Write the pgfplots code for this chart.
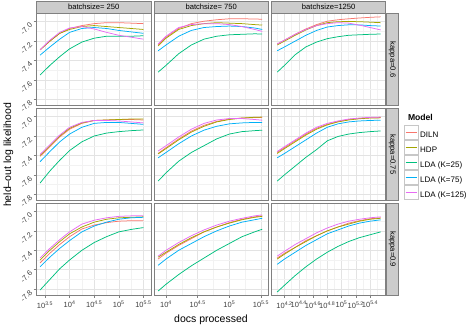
\documentclass[border=0pt]{standalone}
\usepackage{fontspec}
\setmainfont{Liberation Sans}
\usepackage{pgfplots}
\usepackage{pgfplotstable}
\pgfplotsset{compat=1.18}

\definecolor{cDILN}{HTML}{F8766D}
\definecolor{cHDP}{HTML}{A3A500}
\definecolor{cKa}{HTML}{00BF7D}
\definecolor{cKb}{HTML}{00B0F6}
\definecolor{cKc}{HTML}{E76BF3}

% columns: x = log10(docs processed), d = DILN, h = HDP, a = LDA(K=25), b = LDA(K=75), c = LDA(K=125)
\pgfplotstableread{
x d h a b c
3.4 -7.29 -7.29 -7.55 -7.345 -7.29
3.6 -7.20 -7.20 -7.45 -7.26 -7.19
3.8 -7.12 -7.12 -7.36 -7.18 -7.11
4.0 -7.07 -7.08 -7.28 -7.11 -7.065
4.25 -7.04 -7.05 -7.21 -7.07 -7.05
4.5 -7.02 -7.04 -7.17 -7.06 -7.075
4.75 -7.01 -7.05 -7.15 -7.07 -7.11
5.0 -7.01 -7.06 -7.15 -7.09 -7.14
5.25 -7.015 -7.07 -7.15 -7.105 -7.16
5.5 -7.02 -7.08 -7.145 -7.12 -7.18
}\tAA
\pgfplotstableread{
x d h a b c
3.875 -7.24 -7.25 -7.52 -7.30 -7.23
4.0 -7.16 -7.17 -7.45 -7.24 -7.15
4.2 -7.07 -7.08 -7.33 -7.15 -7.06
4.4 -7.02 -7.04 -7.24 -7.09 -7.03
4.6 -6.995 -7.02 -7.18 -7.06 -7.02
4.8 -6.98 -7.01 -7.15 -7.05 -7.02
5.0 -6.97 -7.015 -7.135 -7.045 -7.03
5.2 -6.97 -7.02 -7.13 -7.05 -7.05
5.4 -6.972 -7.03 -7.125 -7.065 -7.08
5.52 -6.975 -7.035 -7.127 -7.08 -7.10
}\tAB
\pgfplotstableread{
x d h a b c
4.097 -7.23 -7.24 -7.52 -7.30 -7.23
4.2 -7.19 -7.20 -7.45 -7.26 -7.19
4.35 -7.13 -7.14 -7.34 -7.20 -7.13
4.5 -7.075 -7.085 -7.26 -7.14 -7.08
4.65 -7.03 -7.04 -7.21 -7.09 -7.04
4.8 -6.995 -7.01 -7.175 -7.055 -7.02
4.95 -6.98 -7.00 -7.155 -7.04 -7.01
5.1 -6.97 -6.998 -7.14 -7.032 -7.015
5.25 -6.962 -7.00 -7.135 -7.033 -7.035
5.4 -6.955 -7.005 -7.13 -7.04 -7.06
5.55 -6.95 -7.01 -7.127 -7.045 -7.085
}\tAC
\pgfplotstableread{
x d h a b c
3.4 -7.41 -7.40 -7.685 -7.465 -7.39
3.6 -7.31 -7.30 -7.56 -7.36 -7.29
3.8 -7.21 -7.20 -7.45 -7.26 -7.19
4.0 -7.13 -7.12 -7.35 -7.18 -7.11
4.25 -7.07 -7.065 -7.26 -7.11 -7.06
4.5 -7.04 -7.04 -7.20 -7.07 -7.04
4.75 -7.035 -7.035 -7.17 -7.06 -7.04
5.0 -7.03 -7.03 -7.155 -7.06 -7.045
5.25 -7.03 -7.025 -7.145 -7.07 -7.055
5.5 -7.035 -7.025 -7.138 -7.08 -7.065
}\tBA
\pgfplotstableread{
x d h a b c
3.875 -7.38 -7.385 -7.665 -7.425 -7.355
4.0 -7.32 -7.33 -7.58 -7.37 -7.30
4.2 -7.23 -7.24 -7.46 -7.28 -7.21
4.4 -7.15 -7.16 -7.37 -7.20 -7.13
4.6 -7.09 -7.10 -7.30 -7.14 -7.07
4.8 -7.05 -7.055 -7.23 -7.10 -7.035
5.0 -7.025 -7.03 -7.18 -7.075 -7.02
5.2 -7.015 -7.015 -7.155 -7.065 -7.02
5.4 -7.01 -7.007 -7.145 -7.06 -7.03
5.52 -7.01 -7.005 -7.14 -7.06 -7.037
}\tBB
\pgfplotstableread{
x d h a b c
4.097 -7.37 -7.38 -7.665 -7.425 -7.36
4.2 -7.32 -7.33 -7.60 -7.38 -7.31
4.35 -7.25 -7.26 -7.51 -7.31 -7.24
4.5 -7.18 -7.19 -7.42 -7.24 -7.17
4.65 -7.12 -7.13 -7.34 -7.17 -7.11
4.8 -7.08 -7.085 -7.25 -7.11 -7.07
4.95 -7.05 -7.055 -7.205 -7.075 -7.045
5.1 -7.03 -7.035 -7.18 -7.055 -7.025
5.25 -7.02 -7.022 -7.165 -7.045 -7.015
5.4 -7.012 -7.015 -7.155 -7.04 -7.008
5.55 -7.01 -7.013 -7.148 -7.037 -7.005
}\tBC
\pgfplotstableread{
x d h a b c
3.4 -7.53 -7.50 -7.81 -7.57 -7.48
3.6 -7.43 -7.40 -7.70 -7.47 -7.38
3.8 -7.34 -7.31 -7.59 -7.38 -7.29
4.0 -7.26 -7.23 -7.50 -7.30 -7.21
4.25 -7.18 -7.16 -7.40 -7.21 -7.13
4.5 -7.14 -7.11 -7.32 -7.15 -7.09
4.75 -7.115 -7.08 -7.26 -7.11 -7.065
5.0 -7.10 -7.065 -7.21 -7.08 -7.05
5.25 -7.095 -7.06 -7.185 -7.065 -7.045
5.5 -7.095 -7.055 -7.166 -7.06 -7.045
}\tCA
\pgfplotstableread{
x d h a b c
3.875 -7.49 -7.47 -7.82 -7.555 -7.46
4.0 -7.43 -7.42 -7.75 -7.49 -7.40
4.2 -7.35 -7.34 -7.65 -7.40 -7.32
4.4 -7.28 -7.27 -7.56 -7.33 -7.25
4.6 -7.21 -7.21 -7.48 -7.26 -7.19
4.8 -7.16 -7.16 -7.40 -7.20 -7.14
5.0 -7.115 -7.12 -7.33 -7.15 -7.10
5.2 -7.08 -7.085 -7.26 -7.11 -7.07
5.4 -7.055 -7.06 -7.21 -7.085 -7.045
5.52 -7.045 -7.05 -7.183 -7.07 -7.035
}\tCB
\pgfplotstableread{
x d h a b c
4.097 -7.48 -7.49 -7.83 -7.545 -7.46
4.2 -7.43 -7.44 -7.76 -7.49 -7.41
4.35 -7.37 -7.37 -7.66 -7.42 -7.34
4.5 -7.30 -7.31 -7.57 -7.35 -7.28
4.65 -7.25 -7.25 -7.49 -7.29 -7.22
4.8 -7.20 -7.20 -7.42 -7.23 -7.17
4.95 -7.16 -7.16 -7.36 -7.19 -7.13
5.1 -7.12 -7.13 -7.31 -7.15 -7.10
5.25 -7.095 -7.10 -7.27 -7.12 -7.08
5.4 -7.075 -7.08 -7.24 -7.10 -7.065
5.55 -7.065 -7.07 -7.21 -7.086 -7.055
}\tCC

\pgfplotsset{
  panel/.style={
    scale only axis, height=92pt,
    ymin=-7.864, ymax=-6.9155,
    ytick={-7.8,-7.6,-7.4,-7.2,-7.0},
    minor ytick={-7.7,-7.5,-7.3,-7.1},
    grid=both,
    major grid style={draw=black!11, line width=0.45pt},
    minor grid style={draw=black!5, line width=0.35pt},
    axis line style={draw=black!50, line width=0.55pt},
    tick align=outside, tick pos=left,
    major tick length=2.5pt, minor tick length=0pt,
    tick style={draw=black!50, line width=0.5pt},
    ticklabel style={font=\fontsize{7.5}{9}\selectfont, text=black!75},
    /pgf/number format/assume math mode=true,
    yticklabel style={rotate=45, anchor=east, /pgf/number format/.cd, fixed, fixed zerofill, precision=1},
    xticklabel={10\textsuperscript{\pgfmathprintnumber[fixed,precision=1]{\tick}}},
    anchor=north west,
  },
  col1/.style={width=115.5pt, xmin=3.317, xmax=5.665, xtick={3.5,4,4.5,5,5.5}, minor xtick={3.75,4.25,4.75,5.25}},
  col2/.style={width=114.5pt, xmin=3.810, xmax=5.619, xtick={4,4.5,5,5.5}, minor xtick={4.25,4.75,5.25}},
  col3/.style={width=114pt, xmin=4.020, xmax=5.620, xtick={4.2,4.4,4.6,4.8,5.0,5.2,5.4}, minor xtick={4.1,4.3,4.5,4.7,4.9,5.1,5.3,5.5}},
  inner x/.style={xmajorticks=false, xminorticks=false, xticklabel={}},
  inner y/.style={ymajorticks=false, yminorticks=false, yticklabel={}},
  lD/.style={color=cDILN, line width=0.75pt},
  lH/.style={color=cHDP, line width=0.75pt},
  lA/.style={color=cKa, line width=0.75pt},
  lB/.style={color=cKb, line width=0.75pt},
  lC/.style={color=cKc, line width=0.75pt},
}
\newcommand{\fiveplots}[1]{%
  \addplot[lD] table[x=x,y=d]{#1};
  \addplot[lH] table[x=x,y=h]{#1};
  \addplot[lA] table[x=x,y=a]{#1};
  \addplot[lB] table[x=x,y=b]{#1};
  \addplot[lC] table[x=x,y=c]{#1};
}
\tikzset{strip/.style={draw=black!50, fill=black!20, line width=0.55pt}}

\begin{document}
\begin{tikzpicture}
\useasboundingbox (0,0) rectangle (474pt,326pt);
% row 1
\begin{axis}[panel, col1, inner x, at={(36pt,312.5pt)}]
\fiveplots{\tAA}
\end{axis}
\begin{axis}[panel, col2, inner x, inner y, at={(154pt,312.5pt)}]
\fiveplots{\tAB}
\end{axis}
\begin{axis}[panel, col3, inner x, inner y, at={(271.7pt,312.5pt)},
  legend style={at={(axis description cs:1.1605,-0.2065)}, anchor=north west, draw=none, fill=none,
    inner sep=0pt, row sep=0pt, font=\fontsize{8}{9}\selectfont,
    nodes={inner xsep=2pt, inner ysep=0pt}},
  legend cell align=left,
  legend image code/.code={\draw[black!22, fill=white, line width=0.5pt] (0.25pt,-4.45pt) rectangle (13.75pt,10.05pt);
    \draw[#1] (1.5pt,2.8pt) -- (12.5pt,2.8pt);}]
\fiveplots{\tAC}
\legend{DILN,HDP,LDA (K=25),LDA (K=75),LDA (K=125)}
\end{axis}
% row 2
\begin{axis}[panel, col1, inner x, at={(36pt,217.6pt)}]
\fiveplots{\tBA}
\end{axis}
\begin{axis}[panel, col2, inner x, inner y, at={(154pt,217.6pt)}]
\fiveplots{\tBB}
\end{axis}
\begin{axis}[panel, col3, inner x, inner y, at={(271.7pt,217.6pt)}]
\fiveplots{\tBC}
\end{axis}
% row 3
\begin{axis}[panel, col1, at={(36pt,122.7pt)}]
\fiveplots{\tCA}
\end{axis}
\begin{axis}[panel, col2, inner y, at={(154pt,122.7pt)}]
\fiveplots{\tCB}
\end{axis}
\begin{axis}[panel, col3, inner y, at={(271.7pt,122.7pt)}]
\fiveplots{\tCC}
\end{axis}
% strips
\draw[strip] (36pt,312.5pt) rectangle (151.5pt,325pt) node[midway, font=\fontsize{7.6}{9}\selectfont] {batchsize= 250};
\draw[strip] (154pt,312.5pt) rectangle (268.5pt,325pt) node[midway, font=\fontsize{7.6}{9}\selectfont] {batchsize= 750};
\draw[strip] (271.7pt,312.5pt) rectangle (385.7pt,325pt) node[midway, font=\fontsize{7.6}{9}\selectfont] {batchsize=1250};
\draw[strip] (386.2pt,312.5pt) rectangle (398.7pt,220.5pt) node[midway, rotate=-90, font=\fontsize{7.6}{9}\selectfont] {kappa=0.6};
\draw[strip] (386.2pt,217.6pt) rectangle (398.7pt,125.6pt) node[midway, rotate=-90, font=\fontsize{7.6}{9}\selectfont] {kappa=0.75};
\draw[strip] (386.2pt,122.7pt) rectangle (398.7pt,30.7pt) node[midway, rotate=-90, font=\fontsize{7.6}{9}\selectfont] {kappa=0.9};
% titles
\node[rotate=90, font=\fontsize{10.5}{12}\selectfont] at (8.5pt,171pt) {held\textendash out log likelihood};
\node[font=\fontsize{10.5}{12}\selectfont] at (211pt,6.5pt) {docs processed};
\node[anchor=west, font=\bfseries\fontsize{8.6}{10}\selectfont] at (404.5pt,209pt) {Model};
\end{tikzpicture}
\end{document}
